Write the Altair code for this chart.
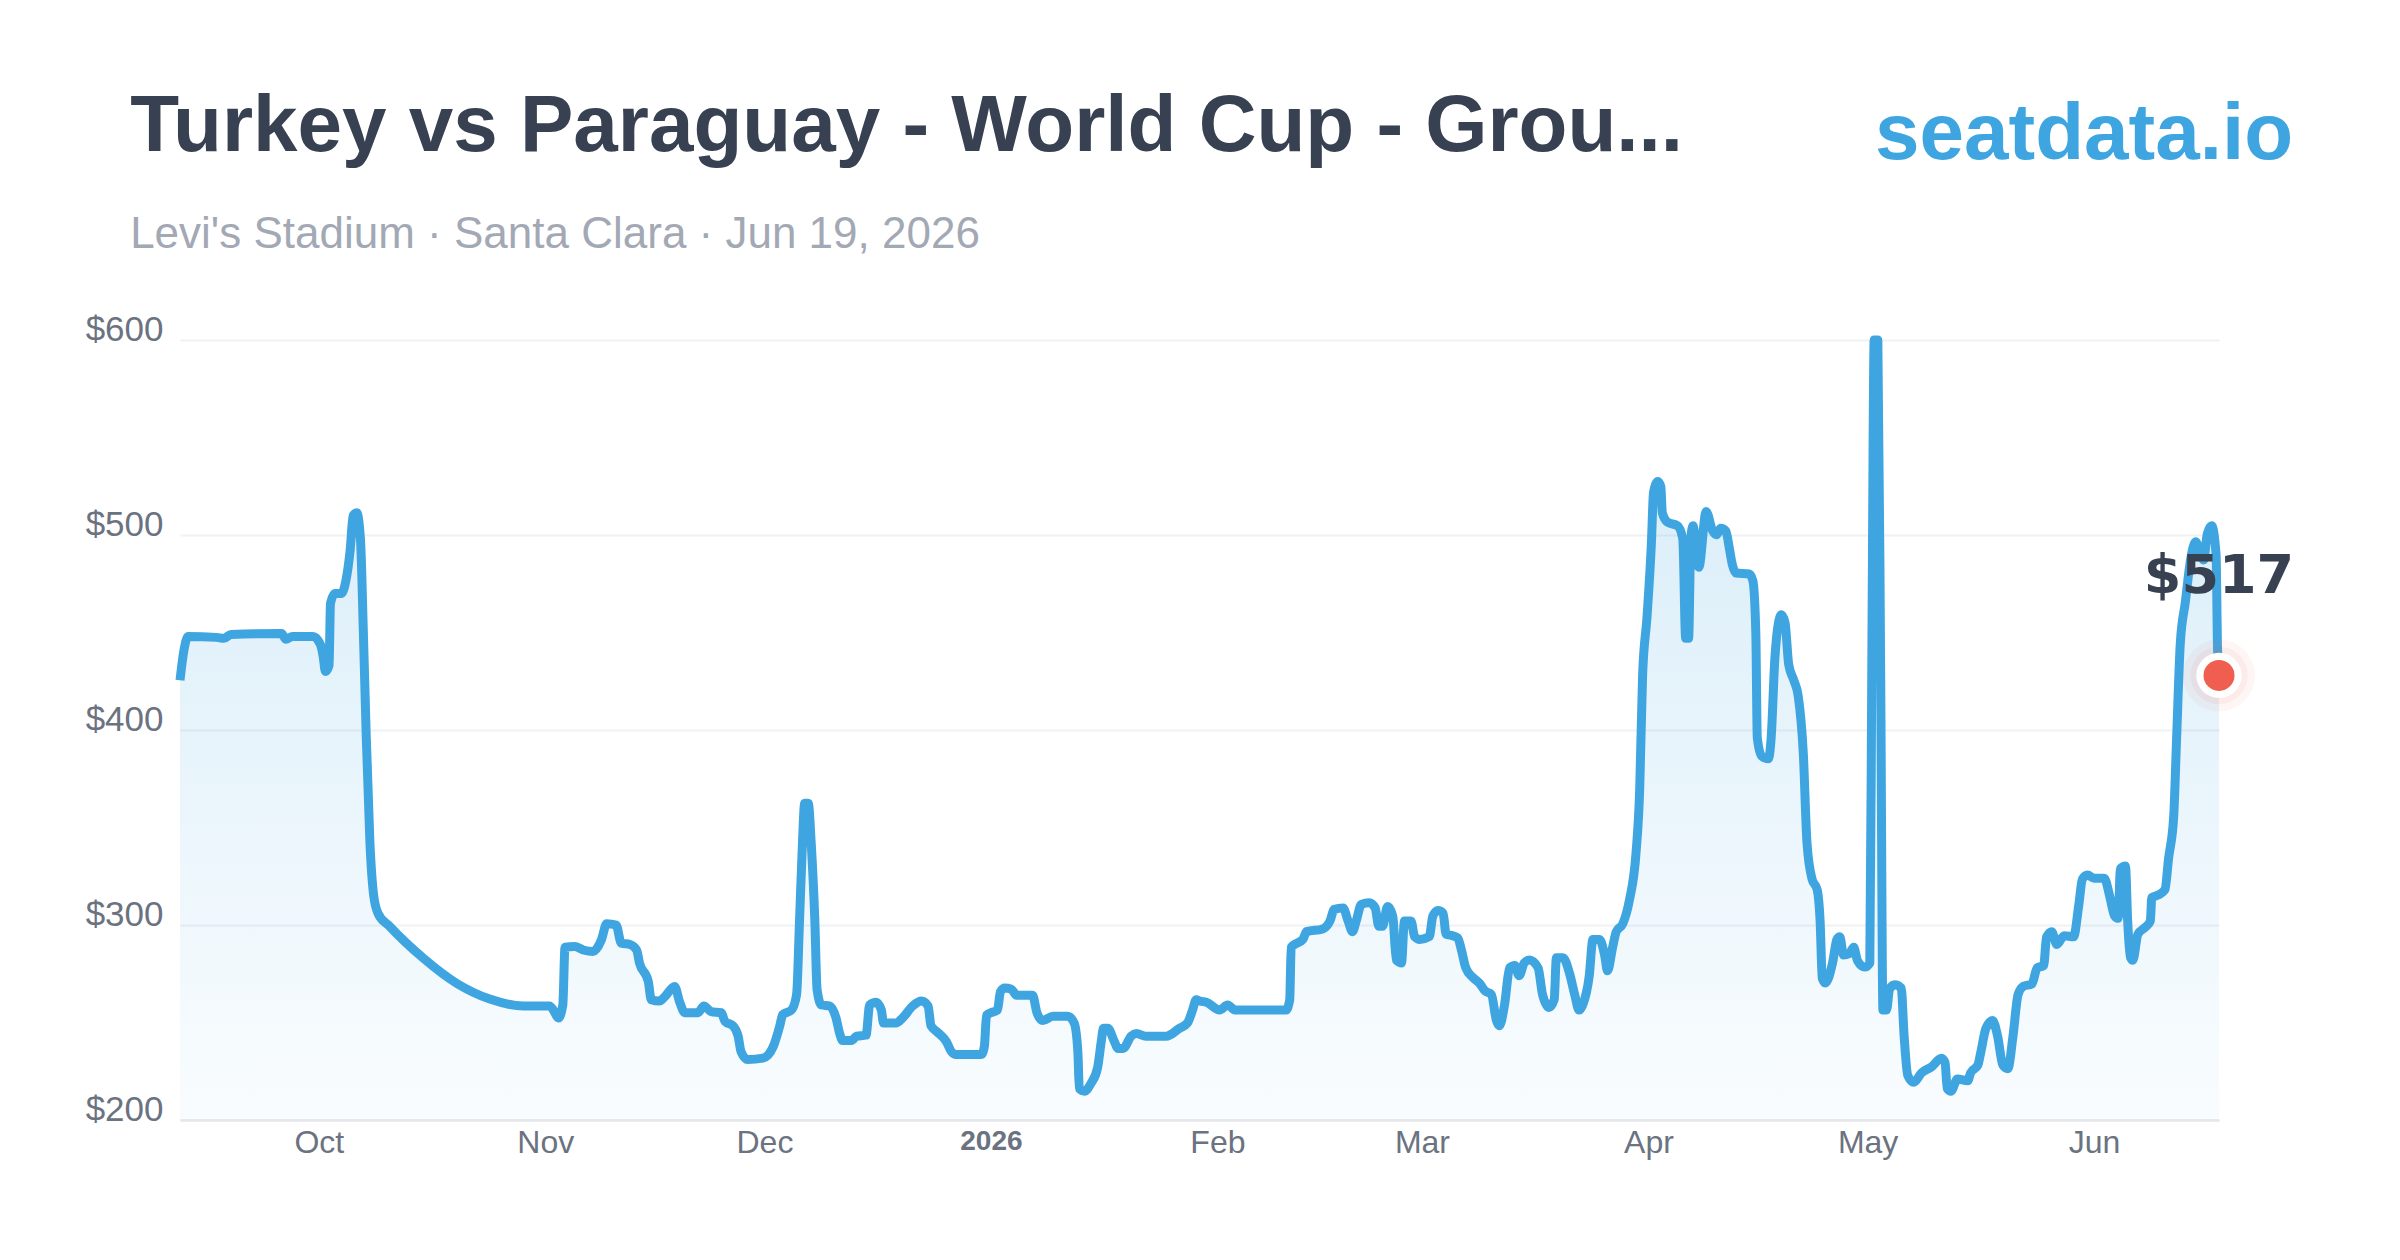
import altair as alt
import pandas as pd

START = "2025-09-12"

# day offsets from START and listing prices
days = [
    0.0, 0.5, 1.1, 5.0, 6.0, 7.0, 13.9, 14.5, 15.4, 18.2, 19.2, 19.6, 19.9, 20.4, 20.6,
    21.2, 22.1, 22.7, 23.3, 23.7, 24.2, 24.7, 25.1, 25.5, 26.0, 26.5, 27.1,
    28.7, 33.3, 37.9, 42.4, 47.0, 50.6, 51.1, 51.8, 52.4, 52.7, 54.0, 55.2, 56.5, 57.7,
    58.4, 59.7, 60.4, 61.6, 62.5, 62.9, 64.1, 64.5, 65.6, 66.3, 67.7, 68.4, 69.1,
    69.8, 70.9, 71.7, 72.7, 74.1, 74.6, 75.7, 76.4, 76.8, 77.7, 79.8, 81.2, 82.1, 82.5,
    83.7, 84.4, 84.8, 85.2, 85.5, 86.0, 86.4, 86.9, 87.2, 87.8, 88.9, 89.8, 90.3, 90.7,
    91.9, 92.6, 93.9, 94.4, 95.3, 96.0, 96.3, 98.0, 98.9, 100.3, 101.5, 102.4, 102.8,
    103.7, 104.9, 105.6, 106.2, 109.7, 110.1, 110.4, 111.0, 111.9, 112.3, 112.9, 113.8,
    114.5, 116.7, 117.3, 118.1, 119.5, 121.5, 122.4, 122.9, 123.1, 123.8, 124.7, 125.6,
    126.1, 126.4, 127.0, 127.9, 128.4, 129.1, 130.2, 130.9, 132.2, 135.0, 136.8, 137.9,
    138.6, 139.1, 139.6, 140.5, 142.3, 143.4, 144.4, 151.4, 151.9, 152.1, 152.8, 153.7,
    154.2, 156.4, 157.4, 158.0, 159.2, 159.9, 160.5, 161.0, 161.7, 162.8, 163.6, 164.1,
    164.6, 165.3, 166.0, 166.5, 167.2, 167.6, 168.5, 169.0, 169.7, 171.0, 171.5, 172.2,
    172.9, 173.3, 174.2, 174.9, 175.4, 176.0, 177.0, 177.9, 178.6, 179.5, 180.2, 180.6,
    181.3, 182.0, 182.7, 183.3, 184.0, 184.7, 185.9, 186.5, 187.4, 188.1, 188.4, 189.3,
    190.2, 190.9, 191.5, 192.0, 192.9, 193.4, 194.3, 195.0, 195.4, 196.1, 196.6, 197.5,
    198.4, 199.3, 199.8, 200.2, 200.8, 201.4, 201.7, 202.3, 202.7, 202.9, 203.6, 205.0,
    205.7, 206.1, 206.5, 206.8, 207.1, 207.9, 208.9, 209.8, 210.3, 210.9, 211.6, 212.1,
    212.5, 213.0, 214.8, 215.3, 215.7, 215.9, 216.5, 217.4, 217.8, 218.3, 218.8, 219.2,
    219.7, 220.2, 220.9, 221.5, 222.2, 222.7, 223.4, 224.1, 224.5, 224.8, 225.2, 226.2,
    226.8, 227.2, 227.7, 228.5, 229.1, 229.6, 230.6, 231.3, 231.6, 231.9, 232.4, 232.8,
    233.1, 233.6, 234.0, 234.7, 235.6, 236.0, 236.5, 237.3, 238.4, 239.8, 241.1, 241.6,
    241.9, 242.4, 243.3, 244.7, 245.1, 246.1, 246.5, 247.2, 248.1, 248.8, 249.5, 250.2,
    250.9, 251.6, 252.3, 253.5, 254.2, 255.1, 255.5, 256.2, 256.9, 257.9, 259.2, 259.9,
    260.4, 261.1, 262.0, 263.4, 264.1, 264.8, 265.3, 265.6, 266.3, 266.6, 267.0, 267.3,
    268.0, 269.0, 269.7, 269.9, 270.8, 271.7, 272.2, 272.9, 273.3, 273.8, 274.5, 275.2,
    275.9, 276.4, 277.0, 277.5, 278.1, 278.7, 278.9, 279.1,
]
prices = [
    425.5, 440, 448, 447.5, 447, 449, 449.5, 446.5, 448, 448, 444, 437.6, 430, 433, 465,
    470, 470, 476.5, 492.6, 510, 511.4, 498, 450, 396, 342, 315.5, 306,
    299.3, 283, 270, 262, 258.5, 258.5, 256.4, 252.3, 259, 288.6, 289, 287.2, 286.4, 292.6,
    300.7, 300, 290.7, 290, 287.2, 280.5, 271, 261.7, 261, 263, 268.5, 260.4, 255,
    255, 255, 258.5, 255.6, 255, 250.5, 248.3, 243, 235, 231, 231.7, 237.6, 248.3, 254,
    256.4, 264.4, 302, 342, 362.4, 362.4, 342, 302, 267, 259, 258.5, 252.3, 244.3, 240.8,
    240.8, 243, 243.5, 259, 260.4, 256.4, 249.7, 249.7, 252.3, 258.5, 261, 258.5, 248.3,
    245, 240.2, 235, 233.6, 233.6, 237.6, 253.7, 255, 256.4, 265.8, 267.7, 267.1,
    264, 264, 255, 251, 253.2, 253.2, 249.7, 235, 216.1, 214.8, 218.8, 226.8,
    240.2, 247, 247, 240.2, 236.7, 236.7, 243, 244.3, 243, 243, 247, 249.7,
    256.4, 261.7, 261, 260.4, 256.4, 259, 256.4, 256.4, 261.7, 288.6, 290.5, 292.6,
    296.6, 298, 302, 308, 308.7, 302, 296.6, 302, 310.6, 311.4, 308.7, 299.3,
    299.3, 309.5, 304.7, 281.9, 280.5, 302, 302, 294, 292.6, 294, 304.7, 307.4,
    306, 295.3, 294.5, 293.4, 287.2, 278, 273, 270, 266.3, 264.4, 251, 248.3,
    259, 278, 279.2, 274, 280.5, 282, 278, 264.4, 257.7, 261.7, 283.2, 283.2,
    275.2, 264.4, 256.4, 259, 274, 292.6, 292.6, 284.6, 276.5, 288.6, 296.6, 300.7,
    312.8, 336.9, 369, 428, 457.7, 495.3, 522, 527.5, 524.8, 511.4, 506.6, 504.7,
    498, 447, 447, 498, 504.7, 483.5, 512, 502, 500.1, 503.4, 502, 492.6,
    484.6, 480.5, 480, 476.5, 449.7, 396, 386.6, 385.2, 396, 436.2, 455, 459.1,
    455, 433.6, 425.5, 417.5, 387.9, 342.3, 323.5, 318.1, 302, 272.5, 270.3, 280.5,
    292.6, 294, 284.6, 285.4, 288.6, 281.9, 278.4, 280.5, 449.7, 600, 600, 422.8,
    256.4, 256.4, 267.1, 269.3, 267.7, 243, 222.8, 219.3, 224.2, 227.4, 231.7, 229.5,
    216.1, 214.8, 221, 220.1, 224.2, 228.2, 234.9, 247, 251, 243, 228.2, 226.3,
    243, 264.4, 268.5, 269.8, 278, 279.2, 294, 296.6, 290, 294.5, 294, 310,
    323.5, 325.6, 324, 324, 315.4, 304.7, 303.4, 328.9, 330.2, 302, 283.2, 281.9,
    295.3, 298.8, 302, 314.1, 315.4, 318.1, 334.2, 355.7, 396, 444.3, 465.8, 487.2,
    496.6, 492.6, 487.2, 500.7, 504.7, 490, 441.6, 428,
]

y_ticks = [200, 300, 400, 500, 600]
TITLE = "Turkey vs Paraguay - World Cup - Grou..."
SUBTITLE = "Levi's Stadium · Santa Clara · Jun 19, 2026"
BRAND = "seatdata.io"
CURRENT_LABEL = "$517"

BLUE = "#3fa5e0"
RED = "#ef5e4e"

df = pd.DataFrame({
    "date": pd.Timestamp(START) + pd.to_timedelta(days, unit="D"),
    "price": prices,
})
last = df.tail(1).copy()
last["label"] = CURRENT_LABEL

x_enc = alt.X(
    "date:T",
    scale=alt.Scale(nice=False),
    axis=alt.Axis(
        title=None,
        grid=False,
        ticks=False,
        domain=True,
        domainColor="#e5e7eb",
        domainWidth=2.5,
        tickCount=alt.TimeIntervalStep(interval="month", step=1),
        labelExpr="month(datum.value) == 0 ? timeFormat(datum.value, '%Y') : timeFormat(datum.value, '%b')",
        labelFont="Liberation Sans",
        labelFontSize=alt.condition("month(datum.value) == 0", alt.value(28), alt.value(32)),
        labelFontWeight=alt.condition("month(datum.value) == 0", alt.value("bold"), alt.value("normal")),
        labelColor="#6b7280",
        labelPadding=7,
    ),
)
y_enc = alt.Y(
    "price:Q",
    scale=alt.Scale(domain=[200, 600], nice=False, zero=False),
    axis=alt.Axis(
        title=None,
        values=y_ticks,
        labelExpr="'$' + datum.value",
        grid=True,
        gridColor="#f0f1f3",
        gridWidth=2,
        domain=False,
        ticks=False,
        labelFont="Liberation Sans",
        labelFontSize=35,
        labelColor="#6b7280",
        labelBaseline="alphabetic",
        labelPadding=17,
    ),
)

base = alt.Chart(df)

area = base.mark_area(
    interpolate="monotone",
    color=alt.Gradient(
        gradient="linear",
        stops=[
            alt.GradientStop(color="rgba(63,165,224,0.22)", offset=0),
            alt.GradientStop(color="rgba(63,165,224,0.03)", offset=1),
        ],
        x1=0, x2=0, y1=0, y2=1,
    ),
).encode(x=x_enc, y=y_enc, y2=alt.datum(200))

line = base.mark_line(
    interpolate="monotone",
    color=BLUE,
    strokeWidth=9,
    strokeCap="butt",
    strokeJoin="round",
).encode(x="date:T", y="price:Q")

pt = alt.Chart(last)
glow = pt.mark_circle(size=5200, color=RED, opacity=0.06).encode(x="date:T", y="price:Q")
glow2 = pt.mark_circle(size=3300, color=RED, opacity=0.07).encode(x="date:T", y="price:Q")
ring = pt.mark_circle(size=2050, color="white", opacity=1).encode(x="date:T", y="price:Q")
dot = pt.mark_circle(size=960, color=RED, opacity=1).encode(x="date:T", y="price:Q")
label = pt.mark_text(
    font="DejaVu Sans",
    fontSize=54,
    fontWeight="bold",
    color="#374151",
    align="center",
    baseline="alphabetic",
    dy=-82,
).encode(x="date:T", y="price:Q", text="label:N")

brand = alt.Chart(pd.DataFrame({"t": [BRAND]})).mark_text(
    font="Liberation Sans",
    fontSize=80,
    fontWeight="bold",
    color=BLUE,
    align="right",
    baseline="alphabetic",
).encode(x=alt.value(2113), y=alt.value(-181), text="t:N")

chart = alt.layer(area, line, glow, glow2, ring, dot, label, brand).properties(
    width=2039,
    height=780,
    background="white",
    title=alt.TitleParams(
        text=TITLE,
        subtitle=SUBTITLE,
        anchor="start",
        dx=45,
        font="Liberation Sans",
        fontSize=80,
        fontWeight="bold",
        color="#374151",
        subtitleFont="Liberation Sans",
        subtitleFontSize=44,
        subtitleColor="#a3a8b5",
        subtitlePadding=45,
        offset=-163,
    ),
    autosize=alt.AutoSizeParams(type="none"),
    padding={"left": 180, "top": 340, "right": 181, "bottom": 140},
).configure_view(strokeWidth=0, strokeOpacity=0)

chart.save("out.html", embed_options={"renderer": "svg", "actions": False})
